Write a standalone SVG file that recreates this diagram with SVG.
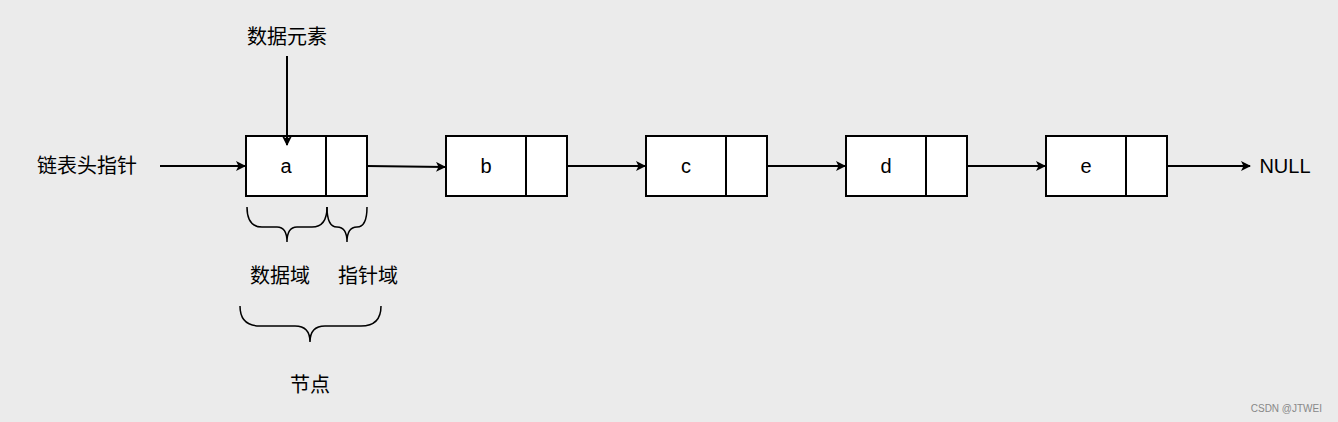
<svg xmlns="http://www.w3.org/2000/svg" width="1338" height="422" viewBox="0 0 1338 422">
<defs>
<marker id="ah" markerWidth="10" markerHeight="10" refX="9" refY="5" orient="auto" markerUnits="userSpaceOnUse">
<path d="M0,0 L10,5 L0,10 L2.5,5 Z" fill="#000"/>
</marker>
<style>
.box{fill:#fff;stroke:#000;stroke-width:2}
.ln{stroke:#000;stroke-width:2;fill:none}
.br{stroke:#000;stroke-width:1.5;fill:none}
text{font-family:"Noto Sans CJK SC","Liberation Sans",sans-serif;font-size:20px;fill:#000}
.t{font-family:"Liberation Sans",sans-serif;font-size:20px;text-anchor:middle}
</style>
</defs>
<rect width="1338" height="422" fill="#ebebeb"/>
<g id="node-a"><rect class="box" x="246" y="136" width="80" height="60"/><rect class="box" x="326" y="136" width="41" height="60"/><text class="t" x="286" y="173">a</text></g>
<g id="node-b"><rect class="box" x="446" y="136" width="80" height="60"/><rect class="box" x="526" y="136" width="41" height="60"/><text class="t" x="486" y="173">b</text></g>
<g id="node-c"><rect class="box" x="646" y="136" width="80" height="60"/><rect class="box" x="726" y="136" width="41" height="60"/><text class="t" x="686" y="173">c</text></g>
<g id="node-d"><rect class="box" x="846" y="136" width="80" height="60"/><rect class="box" x="926" y="136" width="41" height="60"/><text class="t" x="886" y="173">d</text></g>
<g id="node-e"><rect class="box" x="1046" y="136" width="80" height="60"/><rect class="box" x="1126" y="136" width="41" height="60"/><text class="t" x="1086" y="173">e</text></g>
<g id="labels">
<text x="287" y="44" text-anchor="middle">数据元素</text>
<text x="87" y="173" text-anchor="middle">链表头指针</text>
<text class="t" x="1285" y="173">NULL</text>
<text x="280" y="283" text-anchor="middle">数据域</text>
<text x="368" y="283" text-anchor="middle">指针域</text>
<text x="310" y="392" text-anchor="middle">节点</text>
<text x="1322" y="412" text-anchor="end" style="font-family:'Liberation Sans',sans-serif;font-size:10px;fill:#888">CSDN @JTWEI</text>
</g>
<g id="braces">
<path class="br" d="M247,207 Q247,227 262,227 L277,227 Q287,227 287,242 M287,242 Q287,227 297,227 L312,227 Q327,227 327,207"/>
<path class="br" d="M327,207 Q327,227 337,227 Q347,227 347,242 M347,242 Q347,227 357,227 Q367,227 367,207"/>
<path class="br" d="M240,306 Q240,326 260,326 L295,326 Q310,326 310,342 M310,342 Q310,326 325,326 L361,326 Q381,326 381,306"/>
</g>
<g id="connectors">
<path class="ln" d="M287,56 L287,145" marker-end="url(#ah)"/>
<path class="ln" d="M160,166 L245,166" marker-end="url(#ah)"/>
<path class="ln" d="M367,166 L445,167" marker-end="url(#ah)"/>
<path class="ln" d="M567,166 L645,166" marker-end="url(#ah)"/>
<path class="ln" d="M767,166 L845,166" marker-end="url(#ah)"/>
<path class="ln" d="M967,166 L1045,166" marker-end="url(#ah)"/>
<path class="ln" d="M1167,166 L1250,166" marker-end="url(#ah)"/>
</g>
</svg>
